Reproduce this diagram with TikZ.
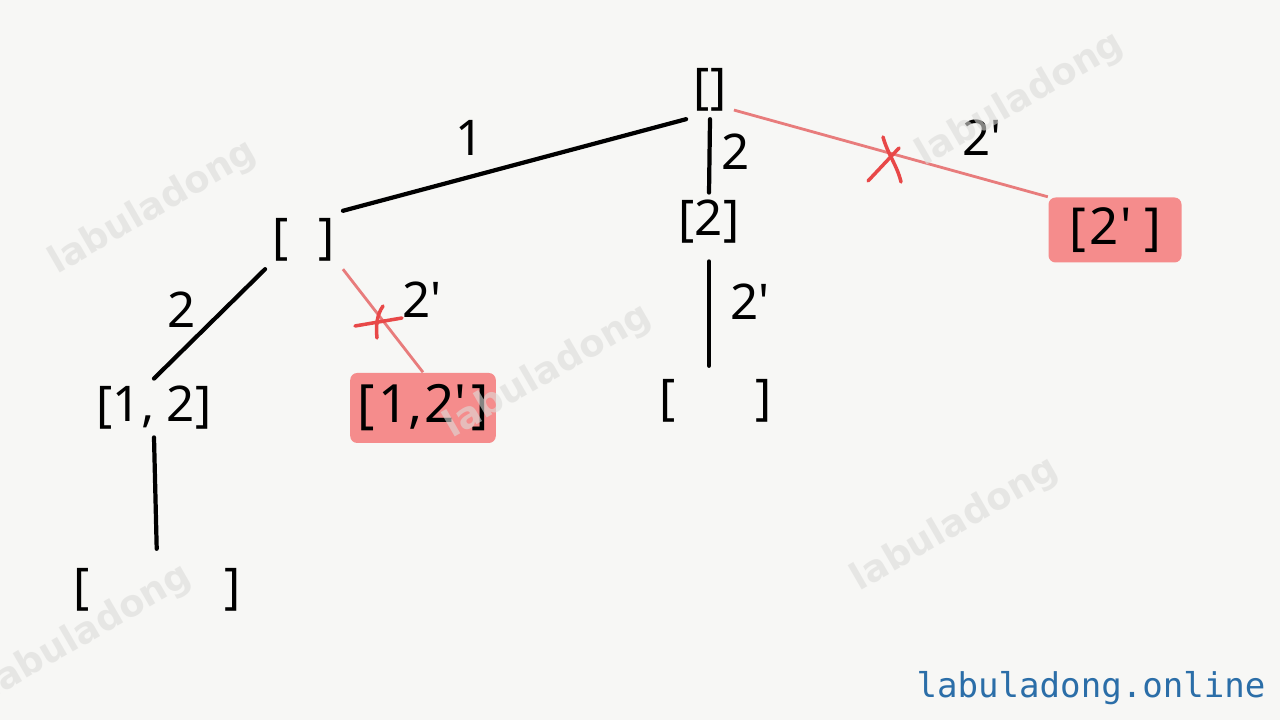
\documentclass[tikz,border=0pt]{standalone}
\usepackage{fontspec}
\setmainfont{Noto Sans}
\setmonofont{DejaVu Sans Mono}
\newfontfamily\wmfont{DejaVu Sans}

\definecolor{paper}{HTML}{F7F7F5}
\definecolor{wmgray}{HTML}{DCDCDA}
\definecolor{boxred}{HTML}{F58C8C}
\definecolor{linered}{HTML}{E87C7C}
\definecolor{crossred}{HTML}{E84848}
\definecolor{siteblue}{HTML}{2B6EA8}

\tikzset{
  state/.style={font=\fontsize{14}{14}\selectfont, inner sep=2pt},
  cut/.style={state, fill=boxred, rounded corners=2pt, minimum width=1.33cm, minimum height=0.65cm},
  tree/.style={line width=1.2pt, line cap=round},
  pruned/.style={draw=linered, line width=0.8pt},
  cross/.style={draw=crossred, line width=1pt, line cap=round},
  lab/.style={font=\fontsize{14}{14}\selectfont, inner sep=1pt},
  watermark/.style={font=\wmfont\bfseries\fontsize{10.5}{10.5}\selectfont, text=wmgray, text opacity=0.6, rotate=30}
}

\begin{document}
\begin{tikzpicture}

% Paper
\useasboundingbox (0,0) rectangle (12.8,-7.2);
\fill[paper] (0,0) rectangle (12.8,-7.2);

% Tree nodes
\node[state] (root) at (7.10,-0.90) {[]};
\node[state] (left) at (3.04,-2.40) {[\hspace{0.3cm}]};
\node[state] (two) at (7.09,-2.22) {[2]};
\node[cut, font=\fontsize{14.5}{14.5}\selectfont] (twop) at (11.15,-2.30) {[\kern1pt2\kern0.5pt\textquotesingle\kern3.5pt]};
\node[state] (onetwo) at (1.54,-4.08) {[1, 2]};
\node[cut, font=\fontsize{15}{15}\selectfont, minimum width=1.45cm, minimum height=0.7cm] (onetwop) at (4.23,-4.08) {[\kern1pt1,\kern0.5pt2\textquotesingle\kern1.5pt]};
\node[state] (twoleaf) at (7.16,-4.01) {[\hspace{0.8cm}]};
\node[state] (leaf) at (1.57,-5.90) {[\hspace{1.35cm}]};

% Draw branches
\draw[tree] (left.north east) -- (root.south west);
\draw[tree] (root.south) -- (two.north);
\draw[tree, shorten <=0.1cm, shorten >=0.06cm] (two.south) -- (two.south |- twoleaf.north);
\draw[tree] (left.south west) -- (onetwo.north);
\draw[tree, shorten >=0.12cm] (onetwo.south) -- (leaf.north);

% Draw pruned branches
\draw[pruned] (root.-40) -- (twop.north west);
\draw[pruned] (left.south east) -- (onetwop.north);

% Crosses
\draw[cross] (8.68,-1.81) -- (8.99,-1.48);
\draw[cross] (8.83,-1.37) .. controls (8.88,-1.55) and (8.97,-1.65) .. (9.01,-1.82);
\draw[cross] (3.55,-3.26) -- (4.02,-3.18);
\draw[cross] (3.83,-3.06) .. controls (3.76,-3.16) and (3.76,-3.28) .. (3.77,-3.38);

% Labels
\node[lab] (w1) at (4.70,-1.38) {1};
\node[lab] (w2) at (7.36,-1.52) {2};
\node[lab] (w2p) at (9.82,-1.38) {2\textquotesingle};
\node[lab] (w2pb) at (7.50,-3.02) {2\textquotesingle};
\node[lab] (w2l) at (1.82,-3.10) {2};
\node[lab] (w2pl) at (4.22,-3.00) {2\textquotesingle};

% Watermarks
\foreach \x/\y [count=\i] in {1.53/-2.08, 10.20/-1.00, 5.48/-3.72, 9.55/-5.25, 0.88/-6.32}
  \node[watermark] (wm\i) at (\x,\y) {labuladong};

% Site
\node[font=\ttfamily\fontsize{9.7}{10}\selectfont, text=siteblue] (site) at (10.91,-6.88) {labuladong.online};

\end{tikzpicture}
\end{document}
